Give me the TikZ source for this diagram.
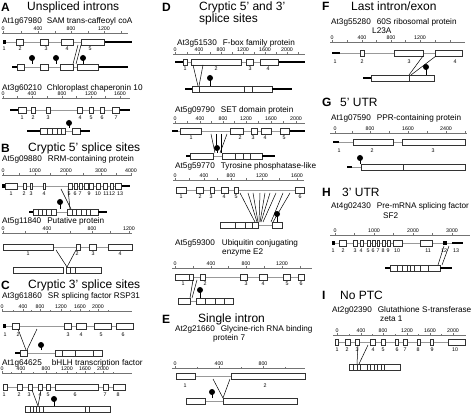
\documentclass[tikz,border=0pt]{standalone}
\usepackage{fontspec}
\setmainfont{Liberation Sans}
\tikzset{
  exon/.style={draw=black!80,fill=white,line width=0.45pt},
  intron/.style={draw=black!40,line width=0.5pt},
  utr/.style={line width=2.4pt},
  scalebar/.style={draw=black!55,line width=0.4pt},
  cut/.style={line width=0.5pt},
  stem/.style={line width=0.6pt},
  num/.style={font=\fontsize{5.3}{6}\selectfont,inner sep=0pt},
  heading/.style={font=\fontsize{12}{13}\selectfont,anchor=west,inner sep=0pt},
  gname/.style={font=\fontsize{8.2}{9}\selectfont,anchor=west,inner sep=0pt}
}
\begin{document}
\begin{tikzpicture}[x=1pt,y=-1pt]
\useasboundingbox (0,0) rectangle (474,414);

% ---- A: unspliced introns
\node[heading] (hA) at (1,7) {\textbf{A}};
\node[heading] (tA) at (27,7) {Unspliced introns};
\node[gname] (gA1) at (2,21) {At1g67980\hspace{5pt}SAM trans-caffeoyl coA};
\draw[scalebar] (2,33) -- (128,33);
\foreach \x/\t in {3/0,38/400,71/800,104/1200} \draw[scalebar] (\x,33) -- (\x,31) node[num,above=0.6pt] (rA\t) {\t};
\foreach \x in {21,55,88,121} \draw[scalebar] (\x,33) -- (\x,31.5);
\draw[intron] (3,42) -- (104,42);
\fill (3,40) rectangle (6,44);
\draw[utr] (104,42) -- (132,42);
\foreach \a/\b in {16/23,40/48,61/73,81/104} \draw[exon] (\a,39) rectangle (\b,45);
\foreach \x/\n in {4/1,20/2,46/3,67/4,90/5} \node[num] (eA\n) at (\x,49) {\n};
\draw[intron] (12,67) -- (98,67);
\draw[utr] (12,67) -- (17,67);
\draw[utr] (98,67) -- (128,67);
\foreach \a/\b in {17/24,40/48,60/73,77/98} \draw[exon] (\a,64) rectangle (\b,70);
\draw[cut] (78,45) -- (73,64);
\draw[cut] (81,45) -- (76,64);
\foreach \x in {32,56,83} {\draw[stem] (\x,64) -- (\x,58); \fill (\x,58) circle (3pt);}

\node[gname] (gA2) at (2,88) {At3g60210\hspace{5pt}Chloroplast chaperonin 10};
\draw[scalebar] (2,98) -- (130,98);
\foreach \x/\t in {3/0,32/400,62/800,91/1200,120/1600} \draw[scalebar] (\x,98) -- (\x,96) node[num,above=0.6pt] (rB\t) {\t};
\foreach \x in {17,47,76,105} \draw[scalebar] (\x,98) -- (\x,96.5);
\draw[intron] (18,110) -- (119,110);
\draw[utr] (10,110) -- (18,110);
\draw[utr] (119,110) -- (130,110);
\foreach \a/\b in {18/26,31/35,46/50,77/82,89/93,100/104,112/119} \draw[exon] (\a,107) rectangle (\b,113);
\foreach \x/\n in {22/1,33/2,48/3,80/4,91/5,102/6,116/7} \node[num] (eB\n) at (\x,118) {\n};
\draw[utr] (27,131) -- (40,131);
\draw[intron] (65,131) -- (72,131);
\draw[exon] (40,128) rectangle (65,134);
\foreach \x in {47,52,57,61} \draw[exon] (\x,128) -- (\x,134);
\draw[exon] (72,128) rectangle (80,134);
\draw[utr] (80,131) -- (90,131);
\draw[stem] (69,128) -- (69,123); \fill (69,123) circle (3pt);

% ---- B: cryptic 5' splice sites
\node[heading] (hB) at (1,148) {\textbf{B}};
\node[heading] (tB) at (28,148) {Cryptic 5' splice sites};
\node[gname] (gB1) at (2,159) {At5g09880\hspace{6pt}RRM-containing protein};
\draw[scalebar] (2,175) -- (132,175);
\foreach \x/\t in {3/0,35/1000,66/2000,101/3000,131/4000} \draw[scalebar] (\x,175) -- (\x,173) node[num,above=0.6pt] (rC\t) {\t};
\foreach \x in {19,50,83,116} \draw[scalebar] (\x,175) -- (\x,173.5);
\draw[intron] (5,186) -- (121,186);
\fill (2,184) rectangle (5,188);
\draw[utr] (121,186) -- (130,186);
\foreach \a/\b in {5/17,23/26,30/32,43/45,68/72,74/77,79/82,84/88,89/93,96/100,103/107,110/113,115/121} \draw[exon] (\a,183) rectangle (\b,189);
\foreach \x/\n in {11/1,24/2,31/3,44/4,69/5,75/6,80/7,89/9,98/10,106/11,112/12,120/13} \node[num] (eC\n) at (\x,194) {\n};
\draw[cut] (61,189) -- (71,209);
\draw[cut] (68,189) -- (70,209);
\draw[utr] (29,212) -- (33,212);
\draw[intron] (56,212) -- (67,212);
\draw[exon] (33,209) rectangle (56,215);
\foreach \x in {38,42,46,51} \draw[exon] (\x,209) -- (\x,215);
\draw[exon] (67,209) rectangle (98,215);
\foreach \x in {72,76,81,86,90} \draw[exon] (\x,209) -- (\x,215);
\draw[utr] (98,212) -- (107,212);
\draw[stem] (60,209) -- (60,202); \fill (60,202) circle (3pt);

\node[gname] (gB2) at (2,221) {At5g11840\hspace{6pt}Putative protein};
\draw[scalebar] (2,233) -- (132,233);
\foreach \x/\t in {3/0,47/400,92/800,129/1200} \draw[scalebar] (\x,233) -- (\x,231) node[num,above=0.6pt] (rD\t) {\t};
\foreach \x in {25,70,110} \draw[scalebar] (\x,233) -- (\x,231.5);
\draw[intron] (53,247) -- (108,247);
\foreach \a/\b in {3/53,76/80,89/96,108/132} \draw[exon] (\a,244) rectangle (\b,250);
\foreach \x/\n in {28/1,77/2,93/3,120/4} \node[num] (eD\n) at (\x,254) {\n};
\draw[cut] (56,250) -- (67,267);
\draw[cut] (76,250) -- (67,267);
\foreach \a/\b in {13/63,66/75,75/101} \draw[exon] (\a,267) rectangle (\b,273);
\draw[exon] (70,267) -- (70,273);

% ---- C: cryptic 3' splice sites
\node[heading] (hC) at (1,285) {\textbf{C}};
\node[heading] (tC) at (28,285) {Cryptic 3' splice sites};
\node[gname] (gC1) at (2,296) {At3g61860\hspace{6pt}SR splicing factor RSP31};
\draw[scalebar] (2,311) -- (132,311);
\foreach \x/\t in {2/0,23/400,40/800,61/1200,80/1600,98/2000} \draw[scalebar] (\x,311) -- (\x,309) node[num,above=0.6pt] (rE\t) {\t};
\foreach \x in {13,31,50,70,89,108} \draw[scalebar] (\x,311) -- (\x,309.5);
\draw[intron] (6,326) -- (116,326);
\fill (3,324) rectangle (6,328);
\foreach \a/\b in {12/19,64/71,76/86,94/111,116/133} \draw[exon] (\a,323) rectangle (\b,329);
\foreach \x/\n in {5/1,18/2,68/3,81/4,101/5,123/6} \node[num] (eE\n) at (\x,335) {\n};
\draw[cut] (18,329) -- (26,350);
\draw[cut] (37,329) -- (27,350);
\draw[utr] (15,353) -- (20,353);
\draw[intron] (27,353) -- (55,353);
\draw[exon] (20,350) rectangle (27,356);
\draw[exon] (55,350) rectangle (102,356);
\foreach \x in {62,75,93} \draw[exon] (\x,350) -- (\x,356);
\draw[stem] (41,350) -- (41,345); \fill (41,345) circle (3pt);

\node[gname] (gC2) at (2,363) {At1g64625\hspace{10pt}bHLH transcription factor};
\draw[scalebar] (2,373) -- (132,373);
\foreach \x/\t in {2/0,21/400,46/800,67/1200,85/1600,103/2000} \draw[scalebar] (\x,373) -- (\x,371) node[num,above=0.6pt] (rF\t) {\t};
\foreach \x in {11,33,56,76,94,113} \draw[scalebar] (\x,373) -- (\x,371.5);
\draw[intron] (3,387) -- (125,387);
\foreach \a/\b in {3/7,17/22,28/32,38/42,46/50,55/98,103/108,113/125} \draw[exon] (\a,384) rectangle (\b,390);
\foreach \x/\n in {4/1,19/2,29/3,40/4,48/5,75/6,105/7,118/8} \node[num] (eF\n) at (\x,395) {\n};
\draw[cut] (32,390) -- (38,406);
\draw[cut] (41,390) -- (38,406);
\draw[exon] (25,406) rectangle (110,412);
\foreach \x in {30,33,36,39,43,85,89} \draw[exon] (\x,406) -- (\x,412);
\draw[stem] (54,406) -- (54,399); \fill (54,399) circle (3pt);

% ---- D: cryptic 5' and 3' splice sites
\node[heading] (hD) at (162,7) {\textbf{D}};
\node[heading] (tD) at (199,7) {Cryptic 5' and 3'};
\node[heading] (tD2) at (199,19) {splice sites};
\node[gname] (gD1) at (177,43) {At3g51530\hspace{6pt}F-box family protein};
\draw[scalebar] (173,54) -- (305,54);
\foreach \x/\t in {175/0,199/400,221/800,243/1200,265/1600,287/2000} \draw[scalebar] (\x,54) -- (\x,52) node[num,above=0.6pt] (rG\t) {\t};
\foreach \x in {187,210,232,254,276,298} \draw[scalebar] (\x,54) -- (\x,52.5);
\draw[intron] (183,62) -- (278,62);
\draw[utr] (175,62) -- (183,62);
\draw[utr] (278,62) -- (305,62);
\foreach \a/\b in {183/187,191/241,246/253,260/278} \draw[exon] (\a,59) rectangle (\b,65);
\foreach \x/\n in {185/1,216/2,250/3,268/4} \node[num] (eG\n) at (\x,69) {\n};
\draw[utr] (185,89) -- (192,89);
\draw[exon] (192,86) rectangle (272,92);
\foreach \x in {199,244,252} \draw[exon] (\x,86) -- (\x,92);
\draw[utr] (272,89) -- (292,89);
\draw[cut] (193,65) -- (198,86);
\draw[cut] (203,65) -- (199,86);
\draw[stem] (210,86) -- (210,78); \fill (210,78) circle (3pt);

\node[gname] (gD2) at (175,110) {At5g09790\hspace{6pt}SET domain protein};
\draw[scalebar] (173,123) -- (305,123);
\foreach \x/\t in {175/0,200/400,223/800,246/1200,271/1600,296/2000} \draw[scalebar] (\x,123) -- (\x,121) node[num,above=0.6pt] (rH\t) {\t};
\foreach \x in {187,211,234,258,283} \draw[scalebar] (\x,123) -- (\x,121.5);
\draw[intron] (178,131) -- (289,131);
\draw[utr] (172,131) -- (178,131);
\draw[utr] (289,131) -- (305,131);
\foreach \a/\b in {180/201,230/243,251/257,261/271,280/289} \draw[exon] (\a,128) rectangle (\b,134);
\foreach \x/\n in {191/1,240/2,253/3,265/4,284/5} \node[num] (eH\n) at (\x,138) {\n};
\draw[cut] (211,134) -- (215,153);
\draw[cut] (216,134) -- (216,145);
\draw[cut] (221,134) -- (221,153);
\draw[cut] (227,134) -- (220,153);
\draw[utr] (186,156) -- (190,156);
\draw[intron] (213,156) -- (222,156);
\draw[exon] (190,153) rectangle (213,159);
\draw[exon] (222,153) rectangle (262,159);
\foreach \x in {235,243,250} \draw[exon] (\x,153) -- (\x,159);
\draw[utr] (262,156) -- (275,156);
\draw[stem] (217,153) -- (217,148); \fill (217,148) circle (3pt);

\node[gname] (gD3) at (175,166) {At5g59770\hspace{6pt}Tyrosine phosphatase-like};
\draw[scalebar] (173,180) -- (304,180);
\foreach \x/\t in {175/0,204/400,231/800,262/1200,297/1600} \draw[scalebar] (\x,180) -- (\x,178) node[num,above=0.6pt] (rI\t) {\t};
\foreach \x in {189,217,246,279} \draw[scalebar] (\x,180) -- (\x,178.5);
\draw[intron] (176,190) -- (304,190);
\foreach \a/\b in {176/186,196/203,210/214,221/228,234/238,295/304} \draw[exon] (\a,187) rectangle (\b,193);
\foreach \x/\n in {181/1,200/2,211/3,224/4,236/5,300/6} \node[num] (eI\n) at (\x,197) {\n};
\foreach \a/\b in {240/255,248/257,253/258,260/259,265/260,270/261,276/263,283/271,290/273} \draw[cut] (\a,193) -- (\b,222);
\draw[intron] (258,225) -- (272,225);
\draw[exon] (220,222) rectangle (258,228);
\foreach \x in {235,245,252} \draw[exon] (\x,222) -- (\x,228);
\draw[exon] (272,222) rectangle (282,228);
\draw[stem] (277,222) -- (277,214); \fill (277,214) circle (3pt);

\node[gname] (gD4) at (175,243) {At5g59300\hspace{7pt}Ubiquitin conjugating};
\node[gname] (gD4b) at (222,252) {enzyme E2};
\draw[scalebar] (172,268) -- (312,268);
\foreach \x/\t in {175/0,211/400,246/800,282/1200} \draw[scalebar] (\x,268) -- (\x,266) node[num,above=0.6pt] (rJ\t) {\t};
\foreach \x in {193,228,264,300} \draw[scalebar] (\x,268) -- (\x,266.5);
\draw[intron] (193,277) -- (304,277);
\foreach \a/\b in {175/193,200/205,240/247,259/267,283/290,298/304} \draw[exon] (\a,274) rectangle (\b,280);
\draw[exon] (189,274) -- (189,280);
\foreach \x/\n in {183/1,205/2,246/3,263/4,287/5,301/6} \node[num] (eJ\n) at (\x,284) {\n};
\draw[cut] (193,280) -- (190,298);
\draw[cut] (197,280) -- (192,298);
\draw[intron] (190,301) -- (196,301);
\draw[exon] (178,298) rectangle (190,304);
\draw[exon] (196,298) rectangle (233,304);
\foreach \x in {205,215,224} \draw[exon] (\x,298) -- (\x,304);
\draw[stem] (200,298) -- (200,290); \fill (200,290) circle (3pt);

% ---- E: single intron
\node[heading] (hE) at (162,319) {\textbf{E}};
\node[heading] (tE) at (198,319) {Single intron};
\node[gname] (gE1) at (175,329) {At2g21660\hspace{6pt}Glycine-rich RNA binding};
\node[gname] (gE1b) at (213,338) {protein 7};
\draw[scalebar] (172,368) -- (305,368);
\foreach \x/\t in {175/0,219/400,263/800} \draw[scalebar] (\x,368) -- (\x,366) node[num,above=0.6pt] (rK\t) {\t};
\foreach \x in {197,241,285} \draw[scalebar] (\x,368) -- (\x,366.5);
\draw[intron] (195,376) -- (231,376);
\foreach \a/\b in {176/195,231/305} \draw[exon] (\a,373) rectangle (\b,379);
\foreach \x/\n in {185/1,265/2} \node[num] (eK\n) at (\x,386) {\n};
\draw[cut] (213,379) -- (223,398);
\draw[cut] (230,379) -- (223,398);
\draw[intron] (205,401) -- (223,401);
\foreach \a/\b in {186/205,223/297} \draw[exon] (\a,398) rectangle (\b,404);
\draw[stem] (212,398) -- (212,392); \fill (212,392) circle (3pt);

% ---- F: last intron/exon
\node[heading] (hF) at (322,6) {\textbf{F}};
\node[heading] (tF) at (351,6) {Last intron/exon};
\node[gname] (gF1) at (331,22) {At3g55280\hspace{6pt}60S ribosomal protein};
\node[gname] (gF1b) at (372,31) {L23A};
\draw[scalebar] (330,42) -- (465,42);
\foreach \x/\t in {332/0,362/400,391/800,420/1200} \draw[scalebar] (\x,42) -- (\x,40) node[num,above=0.6pt] (rL\t) {\t};
\foreach \x in {347,376,405,435,450} \draw[scalebar] (\x,42) -- (\x,40.5);
\draw[intron] (340,53) -- (435,53);
\draw[utr] (332,53) -- (340,53);
\foreach \a/\b in {360/364,394/423,435/462} \draw[exon] (\a,50) rectangle (\b,56);
\foreach \x/\n in {335/1,362/2,409/3,455/4} \node[num] (eL\n) at (\x,62) {\n};
\draw[utr] (363,78) -- (371,78);
\foreach \a/\b in {371/409,409/434} \draw[exon] (\a,75) rectangle (\b,81);
\draw[cut] (423,56) -- (409,75);
\draw[cut] (436,56) -- (411,75);
\draw[stem] (426,75) -- (426,67); \fill (426,67) circle (3pt);

% ---- G: 5' UTR
\node[heading] (hG) at (322,102) {\textbf{G}};
\node[heading] (tG) at (340,102) {5' UTR};
\node[gname] (gG1) at (331,118) {At1g07590\hspace{6pt}PPR-containing protein};
\draw[scalebar] (330,133) -- (467,133);
\foreach \x/\t in {335/0,370/800,408/1600,446/2400} \draw[scalebar] (\x,133) -- (\x,131) node[num,above=0.6pt] (rM\t) {\t};
\foreach \x in {352,389,427,465} \draw[scalebar] (\x,133) -- (\x,131.5);
\draw[intron] (339,142) -- (402,142);
\draw[utr] (333,142) -- (339,142);
\foreach \a/\b in {353/393,402/465} \draw[exon] (\a,139) rectangle (\b,145);
\foreach \x/\n in {339/1,372/2,433/3} \node[num] (eM\n) at (\x,151) {\n};
\draw[utr] (347,167) -- (352,167);
\draw[intron] (352,167) -- (361,167);
\foreach \a/\b in {361/403,403/465} \draw[exon] (\a,164) rectangle (\b,170);
\draw[stem] (360,164) -- (360,158); \fill (360,158) circle (3pt);

% ---- H: 3' UTR
\node[heading] (hH) at (322,192) {\textbf{H}};
\node[heading] (tH) at (342,192) {3' UTR};
\node[gname] (gH1) at (331,206) {At4g02430\hspace{6pt}Pre-mRNA splicing factor};
\node[gname] (gH1b) at (383,216) {SF2};
\draw[scalebar] (330,235) -- (470,235);
\foreach \x/\t in {335/0,374/1000,413/2000,452/3000} \draw[scalebar] (\x,235) -- (\x,233) node[num,above=0.6pt] (rN\t) {\t};
\foreach \x in {354,393,432} \draw[scalebar] (\x,235) -- (\x,233.5);
\draw[intron] (335,243) -- (452,243);
\fill (332,241) rectangle (335,245);
\fill (443,241) rectangle (447,245);
\draw[utr] (452,243) -- (463,243);
\foreach \a/\b in {339/346,353/357,360/363,367/370,372/375,377/379,382/385,387/390,393/402,420/432} \draw[exon] (\a,240) rectangle (\b,246);
\foreach \x/\n in {333/1,343/2,355/3,361/4,368/5,373/6,378/7,383/8,388/9,397/10,428/11,444/12,456/13} \node[num] (eN\n) at (\x,251) {\n};
\draw[cut] (444,246) -- (438,265);
\draw[cut] (449,246) -- (442,265);
\draw[utr] (385,268) -- (390,268);
\draw[exon] (390,265) rectangle (440,271);
\foreach \x in {397,402,407,410,414,420,428} \draw[exon] (\x,265) -- (\x,271);
\draw[utr] (440,268) -- (452,268);

% ---- I: no PTC
\node[heading] (hI) at (322,295) {\textbf{I}};
\node[heading] (tI) at (340,295) {No PTC};
\node[gname] (gI1) at (332,310) {At2g02390\hspace{6pt}Glutathione S-transferase};
\node[gname] (gI1b) at (380,319) {zeta 1};
\draw[scalebar] (333,335) -- (466,335);
\foreach \x/\t in {337/0,361/400,383/800,407/1200,430/1600,453/2000} \draw[scalebar] (\x,335) -- (\x,333) node[num,above=0.6pt] (rO\t) {\t};
\foreach \x in {349,372,395,418,441} \draw[scalebar] (\x,335) -- (\x,333.5);
\draw[intron] (335,342) -- (465,342);
\foreach \a/\b in {335/338,345/350,355/359,370/375,381/385,395/398,403/407,417/420,430/433,448/465} \draw[exon] (\a,339) rectangle (\b,345);
\foreach \x/\n in {337/1,347/2,357/3,373/4,383/5,397/6,405/7,418/8,432/9,455/10} \node[num] (eO\n) at (\x,350) {\n};
\draw[cut] (358,345) -- (357,364);
\draw[cut] (368,345) -- (359,364);
\draw[exon] (349,364) rectangle (400,370);
\foreach \x in {353,357,360,367,370,374,377,381,384} \draw[exon] (\x,364) -- (\x,370);
\end{tikzpicture}
\end{document}
